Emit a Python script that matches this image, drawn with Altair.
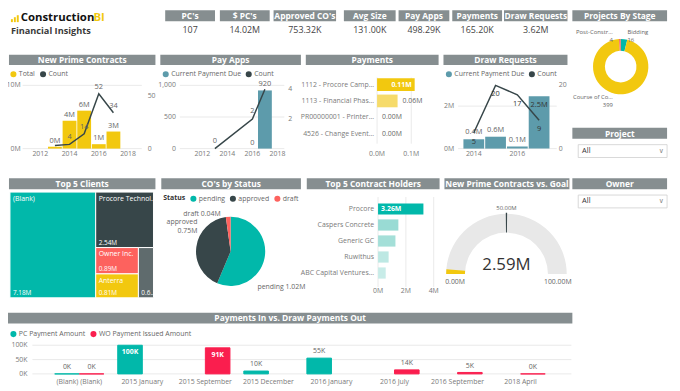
import math
import altair as alt
import pandas as pd

# ------------------------------------------------------------------ data
KPI_NAMES = ["PC's", "$ PC's", "Approved CO's", "Avg Size", "Pay Apps", "Payments", "Draw Requests"]
KPI_VALUES = ["107", "14.02M", "753.32K", "131.00K", "498.29K", "165.20K", "3.62M"]

PS_STAGES = ["Bidding", "Course of Construction", "Post-Construction"]
PS_SHORT = ["Bidding", "Course of Co...", "Post-Constr..."]
PS_COUNTS = [16, 399, 4]

NPC_YEARS = [2013, 2014, 2015, 2016, 2017]
NPC_TOTAL = [0.3e6, 4.4e6, 6.0e6, 0.7e6, 2.7e6]
NPC_COUNT = [3, 4, 14, 52, 34]
NPC_TICKS_X = [2012, 2014, 2016, 2018]
NPC_TICKS_Y = [0, 10e6]
NPC_TICKS_Y2 = [0, 50]

PA_BAR_YEARS = [2016, 2017]
PA_DUE = [0, 920]
PA_LINE_YEARS = [2013, 2016, 2017]
PA_COUNT = [0, 2, 4]
PA_TICKS_X = [2012, 2014, 2016, 2018]
PA_TICKS_Y = [0, 500, 1000]
PA_TICKS_Y2 = [2, 4]

PAY_NAMES = ["1112 - Procore Camp...", "1113 - Financial Phas...",
             "PR00000001 - Printer...", "4526 - Change Event..."]
PAY_VALUES = [0.11e6, 0.06e6, 0.0, 0.0]
PAY_TICKS = [0, 0.1e6]

DR_YEARS = [2014, 2015, 2016, 2017]
DR_DUE = [0.44e6, 0.56e6, 0.1e6, 2.47e6]
DR_COUNT = [5, 20, 17, 9]
DR_TICKS_X = [2014, 2016]
DR_TICKS_Y = [0, 2e6]
DR_TICKS_Y2 = [0, 20]

TC_NAMES = ["(Blank)", "Procore Technologies", "Owner Inc.", "Anterra", "Other"]
TC_VALUES = [7.18e6, 2.54e6, 0.89e6, 0.81e6, 0.60e6]

CS_STATUS = ["pending", "approved", "draft"]
CS_VALUES = [1.02e6, 0.75e6, 0.04e6]

CH_NAMES = ["Procore", "Caspers Concrete", "Generic GC", "Ruwithus", "ABC Capital Ventures..."]
CH_VALUES = [3.26e6, 1.46e6, 1.25e6, 0.76e6, 0.55e6]
CH_TICKS = [0, 2e6, 4e6]

GOAL_MIN, GOAL_TARGET, GOAL_MAX = 0.0, 50e6, 100e6
GOAL_VALUE = 2.59e6

PI_MONTHS = ["(Blank) (Blank)", "2015 January", "2015 September", "2015 December",
             "2016 January", "2016 July", "2016 September", "2018 April"]
PI_SERIES = ["PC Payment Amount", "WO Payment Issued Amount"]
PI_PC = [0, 100e3, None, 10e3, 55e3, None, None, None]
PI_WO = [0, None, 91e3, None, None, 14e3, 5e3, 0]
PI_TICKS = [0, 50e3, 100e3]

FILTER_NAMES = ["Project", "Owner"]
FILTER_VALUES = ["All", "All"]

# ------------------------------------------------------------------ style / layout
W, H = 672, 383
FONT = "Open Sans"
HEAD = "#868E90"
AXC = "#7A7A7A"
LBL = "#666666"
GRID = "#E4E4E4"
YEL, TEAL, DARK, RED, SLATE = "#F2C80F", "#01B8AA", "#374649", "#FD625E", "#5F6B6D"
BLUE = "#5D9BAB"
CRIM = "#FA1E4E"
FM = "format(datum.g/1e6,'.0f')+'M'"


def X(v):
    return round(v * 668.0 / 676.0, 2)


def Y(v):
    return round(v - 8.0, 2)


def lin(dom, rng):
    return alt.Scale(domain=dom, range=rng, nice=False, zero=False)


def ylab(vals, scale, xpos, expr, align="right", size=7):
    return alt.Chart(pd.DataFrame({"g": vals})).transform_calculate(lbl=expr).mark_text(
        align=align, fontSize=size, color=AXC).encode(
        y=alt.Y("g:Q", scale=scale, axis=None), x=alt.value(X(xpos)), text="lbl:N")


def xlab(vals, scale, ypos, expr, size=7):
    return alt.Chart(pd.DataFrame({"g": vals})).transform_calculate(lbl=expr).mark_text(
        fontSize=size, color=AXC).encode(
        x=alt.X("g:Q", scale=scale, axis=None), y=alt.value(Y(ypos)), text="lbl:N")


def leg(x, y, title=None):
    kw = dict(orient="none", legendX=x, legendY=y, direction="horizontal", symbolType="circle",
              symbolSize=38, symbolStrokeWidth=0, labelFontSize=7, labelColor=LBL, labelFont=FONT,
              columnPadding=4, labelOffset=2, padding=0)
    if title:
        kw.update(title=title, titleOrient="left", titleFontSize=7, titleColor="#333",
                  titleFont=FONT, titleFontWeight="bold", titlePadding=4)
    else:
        kw["title"] = None
    return alt.Legend(**kw)


def blank():
    return alt.Chart(alt.InlineData(values=[{"k": 1}]))


def box(x0, x1, y0, y1, fill, stroke=None, sw=0.8):
    kw = {"fill": fill}
    if stroke:
        kw.update(stroke=stroke, strokeWidth=sw)
    return blank().mark_rect(**kw).encode(x=alt.value(X(x0)), x2=alt.value(X(x1)),
                                          y=alt.value(Y(y0)), y2=alt.value(Y(y1)))


def txt(text, x, y, size=9, color="white", weight="bold", align="center", font=FONT):
    return alt.Chart(alt.InlineData(values=[{"t": text}])).mark_text(
        fontSize=size, color=color, fontWeight=weight, align=align, font=font, baseline="middle"
    ).encode(x=alt.value(X(x)), y=alt.value(Y(y)), text="t:N")


def header(text, x0, x1, y0, y1, size=8.5):
    return [box(x0, x1, y0, y1, HEAD), txt(text, (x0 + x1) / 2, (y0 + y1) / 2 + 0.3, size)]


def hgrid(vals, scale, x0, x1):
    return alt.Chart(pd.DataFrame({"g": vals})).mark_rule(color=GRID, strokeWidth=0.8).encode(
        y=alt.Y("g:Q", scale=scale, axis=None), x=alt.value(X(x0)), x2=alt.value(X(x1)))


def vgrid(vals, scale, y0, y1):
    return alt.Chart(pd.DataFrame({"g": vals})).mark_rule(color=GRID, strokeWidth=0.8).encode(
        x=alt.X("g:Q", scale=scale, axis=None), y=alt.value(Y(y0)), y2=alt.value(Y(y1)))


layers = []

# ------------------------------------------------------------------ title / logo
for i, hh in enumerate([3, 5, 7]):
    layers.append(box(3 + i * 3, 5 + i * 3, 20 - hh, 20, YEL))
layers.append(txt("Construction", 13, 16, size=11.5, color="#111", align="left"))
layers.append(txt("BI", 87.5, 16, size=11.5, color=YEL, align="left"))
layers.append(txt("Financial Insights", 3, 29, size=9.3, color="#3a3a3a", align="left"))

# ------------------------------------------------------------------ KPI cards
KPI_X = [(161, 212), (217, 268), (272, 336), (344, 397), (400, 452), (455, 506), (508, 573)]
for name, val, (a, b) in zip(KPI_NAMES, KPI_VALUES, KPI_X):
    layers += header(name, a, b, 8, 19)
    layers.append(txt(val, (a + b) / 2, 27.5, size=9, color="#444", weight="normal"))

# ------------------------------------------------------------------ section headers
for name, a, b, y0, y1 in [
    ("New Prime Contracts", 1, 151, 53, 63.5), ("Pay Apps", 156, 300, 53, 63.5),
    ("Payments", 305, 441, 53, 63.5), ("Draw Requests", 446, 573, 53, 63.5),
    ("Top 5 Clients", 1, 151, 178, 189), ("CO's by Status", 157, 300, 178, 189),
    ("Top 5 Contract Holders", 306, 442, 178, 189), ("New Prime Contracts vs. Goal", 447, 575, 178, 189),
    ("Payments In vs. Draw Payments Out", 0, 578, 314, 325),
    ("Projects By Stage", 578, 675, 8, 19),
]:
    layers += header(name, a, b, y0, y1)

# ------------------------------------------------------------------ New Prime Contracts
npc = pd.DataFrame({"year": NPC_YEARS, "total": NPC_TOTAL, "count": NPC_COUNT})
nx = lin([2012, 2018], [X(28), X(128)])
ny = lin([0, 10e6], [Y(148), Y(84)])
ny2 = lin([0, 60], [Y(148), Y(84)])
nb = alt.Chart(npc)
npc_bars = nb.transform_calculate(s="'Total'").mark_bar(size=14).encode(
    x=alt.X("year:Q", scale=nx, axis=None),
    y=alt.Y("total:Q", scale=ny, axis=None),
    color=alt.Color("s:N", scale=alt.Scale(domain=["Total", "Count"], range=[YEL, DARK]),
                    legend=leg(X(2), Y(69))))
npc_blab = nb.transform_calculate(lbl="format(datum.total/1e6,'.0f')+'M'").mark_text(
    dy=-6, fontSize=7.5, color=LBL).encode(
    x=alt.X("year:Q", scale=nx, axis=None), y=alt.Y("total:Q", scale=ny, axis=None), text="lbl:N")
npc_line = nb.mark_line(color=DARK, strokeWidth=1.5).encode(
    x=alt.X("year:Q", scale=nx, axis=None), y=alt.Y("count:Q", scale=ny2, axis=None))
npc_clab = nb.transform_filter("datum.year > 2013").mark_text(dy=-7, fontSize=7.5, color=LBL).encode(
    x=alt.X("year:Q", scale=nx, axis=None), y=alt.Y("count:Q", scale=ny2, axis=None), text="count:Q")
layers.append(alt.layer(
    alt.layer(hgrid(NPC_TICKS_Y, ny, 15, 137), npc_bars, npc_blab,
              ylab(NPC_TICKS_Y, ny, 13, FM), xlab(NPC_TICKS_X, nx, 153, "''+datum.g")),
    alt.layer(npc_line, npc_clab, ylab(NPC_TICKS_Y2, ny2, 143, "''+datum.g", align="left"))
).resolve_scale(y="independent"))

# ------------------------------------------------------------------ Pay Apps
pab = alt.Chart(pd.DataFrame({"year": PA_BAR_YEARS, "due": PA_DUE}))
pal = alt.Chart(pd.DataFrame({"year": PA_LINE_YEARS, "count": PA_COUNT}))
pax = lin([2012, 2018], [X(194), X(281)])
pay_ = lin([0, 1000], [Y(148), Y(84)])
pay2 = lin([0, 4], [Y(148), Y(88)])
pa_bars = pab.transform_calculate(s="'Current Payment Due'").mark_bar(size=14).encode(
    x=alt.X("year:Q", scale=pax, axis=None),
    y=alt.Y("due:Q", scale=pay_, axis=None),
    color=alt.Color("s:N", scale=alt.Scale(domain=["Current Payment Due", "Count"], range=[BLUE, DARK]),
                    legend=leg(X(158), Y(69))))
pa_blab = pab.mark_text(dy=-6, fontSize=7.5, color=LBL).encode(
    x=alt.X("year:Q", scale=pax, axis=None), y=alt.Y("due:Q", scale=pay_, axis=None),
    text=alt.Text("due:Q", format=","))
pa_line = pal.mark_line(color=DARK, strokeWidth=1.5).encode(
    x=alt.X("year:Q", scale=pax, axis=None), y=alt.Y("count:Q", scale=pay2, axis=None))
pa_clab = pal.transform_filter("datum.year < 2017").mark_text(dy=-8, fontSize=7.5, color=LBL).encode(
    x=alt.X("year:Q", scale=pax, axis=None), y=alt.Y("count:Q", scale=pay2, axis=None), text="count:Q")
layers.append(alt.layer(
    alt.layer(hgrid(PA_TICKS_Y, pay_, 176, 283), pa_bars, pa_blab,
              ylab(PA_TICKS_Y, pay_, 172, "format(datum.g, ',')"),
              xlab(PA_TICKS_X, pax, 153, "''+datum.g")),
    alt.layer(pa_line, pa_clab, ylab(PA_TICKS_Y2, pay2, 287, "''+datum.g", align="left"))
).resolve_scale(y="independent"))

# ------------------------------------------------------------------ Payments (horizontal bars)
pyb = alt.Chart(pd.DataFrame({"name": PAY_NAMES, "v": PAY_VALUES}))
pys = alt.Scale(domain=PAY_NAMES, range=[Y(75), Y(141)], paddingInner=0.22, paddingOuter=0.11)
pxs = lin([0, 1e5], [X(378), X(413)])
pay_bars = pyb.mark_bar().encode(
    y=alt.Y("name:N", scale=pys, axis=None),
    x=alt.X("v:Q", scale=pxs, axis=None),
    color=alt.Color("v:Q", scale=alt.Scale(domain=[0, 0.11e6], range=["#FBEFB5", YEL]), legend=None))
pay_names = pyb.mark_text(align="right", fontSize=7, color=AXC).encode(
    y=alt.Y("name:N", scale=pys, axis=None), x=alt.value(X(375)), text="name:N")
pay_in = pyb.transform_filter("datum.v >= 100000").transform_calculate(
    lbl="format(datum.v/1e6,'.2f')+'M'").mark_text(align="right", dx=-3, fontSize=7, color="white",
                                                  fontWeight="bold").encode(
    y=alt.Y("name:N", scale=pys, axis=None), x=alt.X("v:Q", scale=pxs, axis=None), text="lbl:N")
pay_out = pyb.transform_filter("datum.v < 100000").transform_calculate(
    lbl="format(datum.v/1e6,'.2f')+'M'").mark_text(align="left", dx=5, fontSize=7, color=LBL).encode(
    y=alt.Y("name:N", scale=pys, axis=None), x=alt.X("v:Q", scale=pxs, axis=None), text="lbl:N")
layers.append(alt.layer(vgrid(PAY_TICKS, pxs, 76, 143), pay_bars, pay_names, pay_in, pay_out,
                        xlab(PAY_TICKS, pxs, 153, "format(datum.g/1e6,'.1f')+'M'")))

# ------------------------------------------------------------------ Draw Requests
drb = alt.Chart(pd.DataFrame({"year": DR_YEARS, "due": DR_DUE, "count": DR_COUNT}))
dx_ = lin([2014, 2017], [X(472), X(549)])
dy_ = lin([0, 3e6], [Y(148), Y(83.5)])
dy2 = lin([0, 20], [Y(148), Y(84)])
dr_bars = drb.transform_calculate(s="'Current Payment Due'").mark_bar(size=21).encode(
    x=alt.X("year:Q", scale=dx_, axis=None),
    y=alt.Y("due:Q", scale=dy_, axis=None),
    color=alt.Color("s:N", scale=alt.Scale(domain=["Current Payment Due", "Count"], range=[BLUE, DARK]),
                    legend=leg(X(448), Y(69))))
dr_lab_out = drb.transform_filter("datum.due < 2000000").transform_calculate(
    lbl="format(datum.due/1e6,'.1f')+'M'").mark_text(dy=-7, fontSize=7.5, color=LBL).encode(
    x=alt.X("year:Q", scale=dx_, axis=None), y=alt.Y("due:Q", scale=dy_, axis=None), text="lbl:N")
dr_lab_in = drb.transform_filter("datum.due >= 2000000").transform_calculate(
    lbl="format(datum.due/1e6,'.1f')+'M'").mark_text(dy=9, fontSize=7.5, color="#333").encode(
    x=alt.X("year:Q", scale=dx_, axis=None), y=alt.Y("due:Q", scale=dy_, axis=None), text="lbl:N")
dr_line = drb.mark_line(color=DARK, strokeWidth=1.5).encode(
    x=alt.X("year:Q", scale=dx_, axis=None), y=alt.Y("count:Q", scale=dy2, axis=None))
dr_clab = drb.mark_text(dy=9, fontSize=7.5, color="#333").encode(
    x=alt.X("year:Q", scale=dx_, axis=None), y=alt.Y("count:Q", scale=dy2, axis=None), text="count:Q")
layers.append(alt.layer(
    alt.layer(hgrid(DR_TICKS_Y, dy_, 461, 562), dr_bars, dr_lab_out, dr_lab_in,
              ylab(DR_TICKS_Y, dy_, 457, FM), xlab(DR_TICKS_X, dx_, 153, "''+datum.g")),
    alt.layer(dr_line, dr_clab, ylab(DR_TICKS_Y2, dy2, 564, "''+datum.g", align="left"))
).resolve_scale(y="independent"))


# ------------------------------------------------------------------ Top 5 Clients (squarified treemap)
def squarify(values, w, h):
    total = float(sum(values))
    areas = [v / total * w * h for v in values]
    x = y = 0.0
    out = []

    def worst(row, side):
        s = sum(row)
        return max(max(side * side * r / (s * s), (s * s) / (side * side * r)) for r in row)

    i = 0
    while i < len(areas):
        side = min(w, h)
        row = [areas[i]]
        j = i + 1
        while j < len(areas) and worst(row + [areas[j]], side) <= worst(row, side):
            row.append(areas[j])
            j += 1
        s = sum(row)
        if w >= h:
            t = s / h
            yy = y
            for a in row:
                out.append((x, yy, x + t, yy + a / t))
                yy += a / t
            x += t
            w -= t
        else:
            t = s / w
            xx = x
            for a in row:
                out.append((xx, y, xx + a / t, y + t))
                xx += a / t
            y += t
            h -= t
        i = j
    return out


TW, TH = 147.0, 107.0
cells = squarify(TC_VALUES, TW, TH)
tm = pd.DataFrame({
    "name": TC_NAMES, "v": TC_VALUES,
    "x0": [c[0] for c in cells], "y0": [c[1] for c in cells],
    "x1": [c[2] for c in cells], "y1": [c[3] for c in cells],
})
tm["nlabel"] = [n if (c[2] - c[0]) > 25 else "" for n, c in zip(TC_NAMES, cells)]
tm["vlabel"] = [("%.2fM" % (v / 1e6)) if (c[2] - c[0]) > 25 else ("%.1f..." % (v / 1e6))
                for v, c in zip(TC_VALUES, cells)]
tmx = lin([0, TW], [X(2), X(149)])
tmy = lin([0, TH], [Y(192), Y(299)])
tmc = alt.Chart(tm)
tm_rect = tmc.mark_rect(stroke="white", strokeWidth=1).encode(
    x=alt.X("x0:Q", scale=tmx, axis=None), x2="x1:Q",
    y=alt.Y("y0:Q", scale=tmy, axis=None), y2="y1:Q",
    color=alt.Color("name:N", scale=alt.Scale(domain=TC_NAMES, range=[TEAL, DARK, RED, YEL, SLATE]),
                    legend=None))
tm_name = tmc.mark_text(align="left", dx=3, dy=7, fontSize=7, color="white", limit=60).encode(
    x=alt.X("x0:Q", scale=tmx, axis=None), y=alt.Y("y0:Q", scale=tmy, axis=None), text="nlabel:N")
tm_val = tmc.mark_text(align="left", dx=3, dy=-5, fontSize=6.5, color="white").encode(
    x=alt.X("x0:Q", scale=tmx, axis=None), y=alt.Y("y1:Q", scale=tmy, axis=None), text="vlabel:N")
layers.append(alt.layer(tm_rect, tm_name, tm_val))

# ------------------------------------------------------------------ CO's by Status (pie)
cs = pd.DataFrame({"status": CS_STATUS, "v": CS_VALUES, "o": list(range(len(CS_STATUS)))})
cth = alt.Scale(domain=[0, float(sum(CS_VALUES))], range=[0, 2 * math.pi])
CX, CY = X(228), Y(252)
pie = alt.Chart(cs).mark_arc(radius=35).encode(
    theta=alt.Theta("v:Q", stack=True, scale=cth), order=alt.Order("o:Q"),
    color=alt.Color("status:N", scale=alt.Scale(domain=CS_STATUS, range=[TEAL, DARK, RED]),
                    legend=leg(X(159), Y(195), title="Status")),
    x=alt.value(CX), y=alt.value(CY))


def cs_label(name, sep, align, dx, dy):
    return alt.Chart(cs).transform_window(
        cum="sum(v)", sort=[alt.SortField("o")], frame=[None, 0]
    ).transform_calculate(
        mid="datum.cum - datum.v/2",
        lbl="datum.status + '" + sep + "' + format(datum.v/1e6,'.2f') + 'M'"
    ).transform_filter("datum.status == '%s'" % name).mark_text(
        radius=44, align=align, dx=dx, dy=dy, fontSize=7, color=LBL, lineBreak="\n"
    ).encode(theta=alt.Theta("mid:Q", scale=cth, stack=False), x=alt.value(CX), y=alt.value(CY),
             text="lbl:N")


layers.append(alt.layer(pie,
                        cs_label("pending", " ", "left", -16, 27),
                        cs_label("approved", "\\n", "right", 10, -24),
                        cs_label("draft", " ", "right", -7, 6)))

# ------------------------------------------------------------------ Top 5 Contract Holders
chc = alt.Chart(pd.DataFrame({"name": CH_NAMES, "v": CH_VALUES}))
chy = alt.Scale(domain=CH_NAMES, range=[Y(201), Y(282)], paddingInner=0.3, paddingOuter=0.15)
chx = lin([0, 4e6], [X(379), X(436)])
ch_bars = chc.mark_bar().encode(
    y=alt.Y("name:N", scale=chy, axis=None),
    x=alt.X("v:Q", scale=chx, axis=None),
    color=alt.Color("v:Q", scale=alt.Scale(domain=[0, max(CH_VALUES)], range=["#E3F6F4", TEAL]),
                    legend=None))
ch_names = chc.mark_text(align="right", fontSize=7, color=AXC).encode(
    y=alt.Y("name:N", scale=chy, axis=None), x=alt.value(X(375)), text="name:N")
ch_lab = chc.transform_filter("datum.v > 3000000").transform_calculate(
    z="0", lbl="format(datum.v/1e6,'.2f')+'M'").mark_text(
    align="left", dx=3, fontSize=7, color="white", fontWeight="bold").encode(
    y=alt.Y("name:N", scale=chy, axis=None), x=alt.X("z:Q", scale=chx, axis=None), text="lbl:N")
layers.append(alt.layer(vgrid(CH_TICKS, chx, 197, 288), ch_bars, ch_names, ch_lab,
                        xlab(CH_TICKS, chx, 292, FM)))

# ------------------------------------------------------------------ Gauge
GX, GY = X(510.5), Y(275)
gth = alt.Scale(domain=[GOAL_MIN, GOAL_MAX], range=[1.5 * math.pi, 2.5 * math.pi])
gdf = pd.DataFrame({"part": ["track", "value"], "t0": [GOAL_MIN, GOAL_MIN], "t1": [GOAL_MAX, GOAL_VALUE]})
g_arc = alt.Chart(gdf).mark_arc(radius=61, radius2=42).encode(
    theta=alt.Theta("t0:Q", scale=gth, stack=False), theta2="t1:Q",
    color=alt.Color("part:N", scale=alt.Scale(domain=["track", "value"], range=["#E8E8E8", YEL]),
                    legend=None),
    x=alt.value(GX), y=alt.value(GY))
tdf = alt.Chart(pd.DataFrame({"t": [GOAL_TARGET]}))
g_tick = tdf.transform_calculate(a="datum.t - 350000", b="datum.t + 350000").mark_arc(
    radius=62, radius2=42, color=DARK).encode(
    theta=alt.Theta("a:Q", scale=gth, stack=False), theta2="b:Q", x=alt.value(GX), y=alt.value(GY))
g_tlab = tdf.transform_calculate(lbl="format(datum.t/1e6,'.2f')+'M'").mark_text(
    radius=67, fontSize=6, color=LBL).encode(
    theta=alt.Theta("t:Q", scale=gth, stack=False), x=alt.value(GX), y=alt.value(GY), text="lbl:N")
g_ends = alt.Chart(pd.DataFrame({"t": [GOAL_MIN, GOAL_MAX]})).transform_calculate(
    lbl="format(datum.t/1e6,'.2f')+'M'").mark_text(radius=52, dy=8, fontSize=7, color=LBL).encode(
    theta=alt.Theta("t:Q", scale=gth, stack=False), x=alt.value(GX), y=alt.value(GY), text="lbl:N")
g_val = alt.Chart(pd.DataFrame({"v": [GOAL_VALUE]})).transform_calculate(
    lbl="format(datum.v/1e6,'.2f')+'M'").mark_text(fontSize=17, color="#333").encode(
    x=alt.value(GX), y=alt.value(Y(266)), text="lbl:N")
layers.append(alt.layer(g_arc, g_tick, g_tlab, g_ends, g_val))

# ------------------------------------------------------------------ Payments In vs Draw Payments Out
rows = []
for m, pc, wo in zip(PI_MONTHS, PI_PC, PI_WO):
    if pc is not None:
        rows.append({"m": m, "s": PI_SERIES[0], "v": pc})
    if wo is not None:
        rows.append({"m": m, "s": PI_SERIES[1], "v": wo})
pic = alt.Chart(pd.DataFrame(rows))
pix = alt.Scale(domain=PI_MONTHS, range=[X(40.7), X(557.3)], paddingInner=0.22, paddingOuter=0.11)
piy = lin([0, 1e5], [Y(376), Y(347)])
pio = alt.Scale(domain=PI_SERIES)
pi_bars = pic.mark_bar(strokeWidth=1).encode(
    x=alt.X("m:N", scale=pix, axis=None),
    xOffset=alt.XOffset("s:N", scale=pio),
    y=alt.Y("v:Q", scale=piy, axis=None),
    color=alt.Color("s:N", scale=alt.Scale(domain=PI_SERIES, range=[TEAL, CRIM]), legend=leg(X(2), Y(332))),
    stroke=alt.Stroke("s:N", scale=alt.Scale(domain=PI_SERIES, range=[TEAL, CRIM]), legend=None))
pi_in = pic.transform_filter("datum.v >= 80000").transform_calculate(
    lbl="format(datum.v/1e3,'.0f')+'K'").mark_text(dy=7, fontSize=7, color="white", fontWeight="bold").encode(
    x=alt.X("m:N", scale=pix, axis=None), xOffset=alt.XOffset("s:N", scale=pio),
    y=alt.Y("v:Q", scale=piy, axis=None), text="lbl:N")
pi_out = pic.transform_filter("datum.v < 80000").transform_calculate(
    lbl="format(datum.v/1e3,'.0f')+'K'").mark_text(dy=-7, fontSize=7, color=LBL).encode(
    x=alt.X("m:N", scale=pix, axis=None), xOffset=alt.XOffset("s:N", scale=pio),
    y=alt.Y("v:Q", scale=piy, axis=None), text="lbl:N")
pi_xl = alt.Chart(pd.DataFrame({"m": PI_MONTHS})).mark_text(fontSize=7, color=AXC).encode(
    x=alt.X("m:N", scale=pix, axis=None), y=alt.value(Y(384)), text="m:N")
layers.append(alt.layer(hgrid(PI_TICKS, piy, 25, 577), pi_bars, pi_in, pi_out, pi_xl,
                        ylab(PI_TICKS, piy, 20, "format(datum.g/1e3,'.0f')+'K'")))

# ------------------------------------------------------------------ Projects By Stage (donut)
ps = pd.DataFrame({"stage": PS_STAGES, "short": PS_SHORT, "n": PS_COUNTS, "o": list(range(len(PS_STAGES)))})
pth = alt.Scale(domain=[0, float(sum(PS_COUNTS))], range=[0, 2 * math.pi])
PX, PY = X(627.5), Y(65)
donut = alt.Chart(ps).mark_arc(radius=28, radius2=16).encode(
    theta=alt.Theta("n:Q", stack=True, scale=pth), order=alt.Order("o:Q"),
    color=alt.Color("stage:N", scale=alt.Scale(domain=PS_STAGES, range=[TEAL, YEL, RED]), legend=None),
    x=alt.value(PX), y=alt.value(PY))


def ps_label(name, align, dx, dy):
    return alt.Chart(ps).transform_window(
        cum="sum(n)", sort=[alt.SortField("o")], frame=[None, 0]
    ).transform_calculate(
        mid="datum.cum - datum.n/2", lbl="datum.short + '\\n' + datum.n"
    ).transform_filter("datum.stage == '%s'" % name).mark_text(
        radius=32, align=align, dx=dx, dy=dy, fontSize=6, color=LBL, lineBreak="\n"
    ).encode(theta=alt.Theta("mid:Q", scale=pth, stack=False), x=alt.value(PX), y=alt.value(PY),
             text="lbl:N")


layers.append(alt.layer(donut,
                        ps_label("Bidding", "left", 3, -3),
                        ps_label("Post-Construction", "right", -7, -3),
                        ps_label("Course of Construction", "right", -5, -1)))

# ------------------------------------------------------------------ slicers
for name, val, (hy0, hy1, by0, by1) in zip(FILTER_NAMES, FILTER_VALUES,
                                           [(127, 138, 144, 157), (178, 189, 195, 208)]):
    layers += header(name, 578, 675, hy0, hy1)
    layers.append(box(584, 675, by0, by1, "white", stroke="#CFCFCF"))
    layers.append(txt(val, 588, (by0 + by1) / 2, size=7.5, color="#333", weight="normal", align="left"))
    layers.append(txt("\u2228", 669, (by0 + by1) / 2, size=7, color="#888", weight="normal",
                      font="DejaVu Sans"))

chart = alt.layer(*layers).resolve_scale(
    x="independent", y="independent", color="independent", theta="independent", stroke="independent"
).properties(
    width=W, height=H, autosize=alt.AutoSizeParams(type="none"), padding=0, background="white"
).configure(font=FONT).configure_view(stroke=None)

chart.save("out.html", embed_options={"renderer": "svg", "actions": False})
